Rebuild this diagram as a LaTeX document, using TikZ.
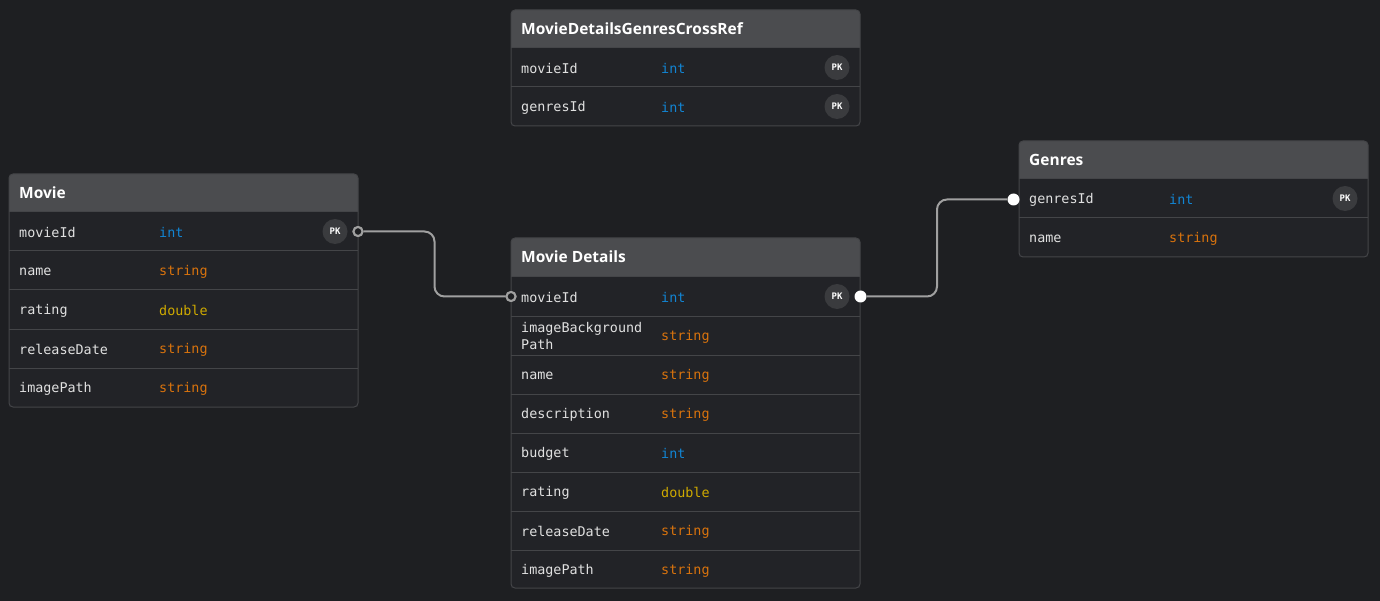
\documentclass[tikz,border=0pt]{standalone}
\usepackage{fontspec}
\setmainfont{Open Sans}
\newfontfamily\monof{DejaVu Sans Mono}
\usetikzlibrary{calc}
\definecolor{bgc}{RGB}{30,31,34}
\definecolor{rowc}{RGB}{34,35,39}
\definecolor{hdrc}{RGB}{75,76,79}
\definecolor{brdc}{RGB}{68,69,72}
\definecolor{txtc}{RGB}{225,225,225}
\definecolor{intc}{RGB}{18,133,212}
\definecolor{strc}{RGB}{217,115,13}
\definecolor{dblc}{RGB}{207,170,0}
\definecolor{pkc}{RGB}{58,59,62}
\definecolor{linec}{RGB}{160,160,160}
\tikzset{
  ttl/.style={anchor=west,inner sep=0pt,text=white,font=\bfseries\fontsize{15.5}{18}\selectfont},
  fld/.style={anchor=west,inner sep=0pt,text=txtc,font=\monof\fontsize{13.4}{17}\selectfont,align=left},
  typ/.style={anchor=west,inner sep=0pt,font=\monof\fontsize{13.4}{17}\selectfont},
  pkb/.style={circle,fill=pkc,minimum size=25pt,inner sep=0pt,text=white,font=\monof\bfseries\fontsize{9}{10}\selectfont},
  hollowdot/.style={circle,draw=linec,line width=2pt,fill=bgc,minimum size=9pt,inner sep=0pt},
  soliddot/.style={circle,fill=white,minimum size=12pt,inner sep=0pt},
  conn/.style={draw=linec,line width=2pt,rounded corners=10pt},
}
% table: id, x, y, title, nrows
\newcommand\erdtable[5]{%
  \fill[hdrc,rounded corners=4pt] (#2,#3) rectangle ++(349,44);
  \fill[rowc] ({#2},{#3+38}) rectangle ++(349,{39*#5});
  \draw[brdc,line width=1pt,rounded corners=4pt] ({#2},{#3+38+39*#5}) -- (#2,#3) -- ({#2+349},#3) -- ({#2+349},{#3+38+39*#5}) -- cycle;
  \node[ttl] (#1) at ({#2+10},{#3+19}) {#4};
}
% row: id, x, ytop, field, type, colour
\newcommand\erdrow[6]{%
  \draw[brdc,line width=1pt] (#2,#3) -- ++(349,0);
  \node[fld] (#1) at ({#2+10},{#3+20.5}) {#4};
  \node[typ,text=#6] (#1-t) at ({#2+150},{#3+20.5}) {#5};
}
\newcommand\erdpk[3]{\node[pkb] (#1) at ({#2+326},{#3+19.5}) {PK};}
\begin{document}
\begin{tikzpicture}[x=1pt,y=-1pt]
\fill[bgc] (0,0) rectangle (1380,601);
\useasboundingbox (0,0) rectangle (1380,601);
% CrossRef
\erdtable{cr}{511}{10}{MovieDetailsGenresCrossRef}{2}
\erdrow{cr1}{511}{48}{movieId}{int}{intc}\erdpk{cr1pk}{511}{48}
\erdrow{cr2}{511}{87}{genresId}{int}{intc}\erdpk{cr2pk}{511}{87}
% Movie
\erdtable{mv}{9}{174}{Movie}{5}
\erdrow{mv1}{9}{212}{movieId}{int}{intc}\erdpk{mv1pk}{9}{212}
\erdrow{mv2}{9}{251}{name}{string}{strc}
\erdrow{mv3}{9}{290}{rating}{double}{dblc}
\erdrow{mv4}{9}{329}{releaseDate}{string}{strc}
\erdrow{mv5}{9}{368}{imagePath}{string}{strc}
% Movie Details
\erdtable{md}{511}{238}{Movie Details}{8}
\erdrow{md1}{511}{277}{movieId}{int}{intc}\erdpk{md1pk}{511}{277}
\erdrow{md2}{511}{316}{imageBackground\\Path}{string}{strc}
\erdrow{md3}{511}{355}{name}{string}{strc}
\erdrow{md4}{511}{394}{description}{string}{strc}
\erdrow{md5}{511}{433}{budget}{int}{intc}
\erdrow{md6}{511}{472}{rating}{double}{dblc}
\erdrow{md7}{511}{511}{releaseDate}{string}{strc}
\erdrow{md8}{511}{550}{imagePath}{string}{strc}
% Genres
\erdtable{gn}{1019}{141}{Genres}{2}
\erdrow{gn1}{1019}{179}{genresId}{int}{intc}\erdpk{gn1pk}{1019}{179}
\erdrow{gn2}{1019}{218}{name}{string}{strc}
% connectors
\node[hollowdot] (pm) at (358,231.5) {};
\node[hollowdot] (pd) at (511,296.5) {};
\node[soliddot] (sd) at (860.5,296.5) {};
\node[soliddot] (sg) at (1013.5,199.5) {};
\draw[conn] (pm.east) -| ($(pm)!0.5!(pd)$) |- (pd.west);
\draw[conn] (sd.east) -| ($(sd)!0.5!(sg)$) |- (sg.west);
\node[hollowdot] at (pm) {};
\node[hollowdot] at (pd) {};
\end{tikzpicture}
\end{document}
